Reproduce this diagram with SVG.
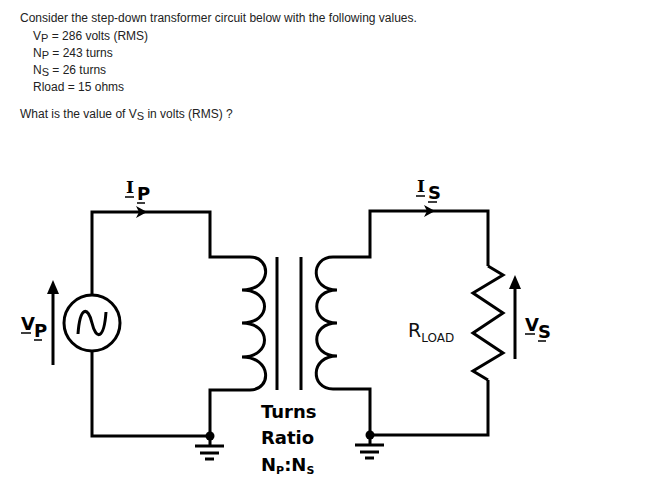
<svg xmlns="http://www.w3.org/2000/svg" width="650" height="481" viewBox="0 0 650 481">
<style>
.t{font-family:"Liberation Sans",Arial,sans-serif;font-size:12px;fill:#222}
.w{fill:none;stroke:#000;stroke-width:3;stroke-linejoin:miter}
.b{font-family:"DejaVu Sans",sans-serif;font-weight:bold;font-size:18px;fill:#000}
.s{font-family:"DejaVu Serif",serif;font-weight:bold;font-size:17px;fill:#000}
</style>
<rect width="650" height="481" fill="#fff"/>
<g id="text">
<text class="t" x="20" y="22">Consider the step-down transformer circuit below with the following values.</text>
<text class="t" x="33" y="40">V<tspan font-size="11" dy="2">P</tspan><tspan dy="-2"> = 286 volts (RMS)</tspan></text>
<text class="t" x="33" y="57">N<tspan font-size="11" dy="2">P</tspan><tspan dy="-2"> = 243 turns</tspan></text>
<text class="t" x="33" y="74">N<tspan font-size="11" dy="2">S</tspan><tspan dy="-2"> = 26 turns</tspan></text>
<text class="t" x="33" y="91">Rload = 15 ohms</text>
<text class="t" x="20" y="118">What is the value of V<tspan font-size="11" dy="2">S</tspan><tspan dy="-2"> in volts (RMS) ?</tspan></text>
</g>
<g id="connectors">
<path class="w" d="M92,295V212H210V257H250"/>
<path class="w" d="M250,390H210V436H92V351"/>
<path class="w" d="M333,257H370V211H488V266"/>
<path class="w" d="M333,389H370V435H488V380"/>
</g>
<g id="arrowIp"><path d="M136,206L147,212L136,218L139,212z" fill="#000"/></g>
<g id="arrowIs"><path d="M424,205L435,211L424,217L427,211z" fill="#000"/></g>
<g id="source">
<circle cx="92" cy="323" r="28" fill="#fff" stroke="#000" stroke-width="3"/>
<path d="M78,334C80,306 88,306 92,323C96,340 104,340 106,312" fill="none" stroke="#000" stroke-width="3"/>
</g>
<g id="primaryCoil">
<path class="w" d="M250,257C272,257 272,290 242,290C272,290 272,323 242,323C272,323 272,357 242,357C272,357 272,390 250,390"/>
</g>
<g id="core">
<line x1="277" y1="257" x2="277" y2="390" stroke="#000" stroke-width="3"/>
<line x1="301" y1="257" x2="301" y2="390" stroke="#000" stroke-width="3"/>
</g>
<g id="secondaryCoil">
<path class="w" d="M333,257C310,257 310,290 337,290C310,290 310,323 337,323C310,323 310,356 337,356C310,356 310,389 333,389"/>
</g>
<g id="resistor">
<path class="w" d="M488,266L503,275L473,293L503,313L473,333L503,353L473,371L488,380"/>
</g>
<g id="ground1">
<circle cx="210" cy="436" r="4.5" fill="#000"/>
<path d="M210,436V446M195,446H224M200,453H219M205,459H214" stroke="#000" stroke-width="3"/>
</g>
<g id="ground2">
<circle cx="370" cy="435" r="4.5" fill="#000"/>
<path d="M370,435V445M355,445H384M360,452H379M365,458H374" stroke="#000" stroke-width="3"/>
</g>
<g id="vp">
<line x1="53" y1="365" x2="53" y2="292" stroke="#000" stroke-width="3"/>
<path d="M47,294L53,280L59,294z" fill="#000"/>
<text class="b" x="21" y="330" font-size="16">V</text>
<text class="b" x="34" y="337" font-size="10">P</text>
<path d="M21,333H31M34,340H42" stroke="#000" stroke-width="1.5"/>
</g>
<g id="vs">
<line x1="515" y1="359" x2="515" y2="287" stroke="#000" stroke-width="3"/>
<path d="M509,289L515,275L521,289z" fill="#000"/>
<text class="b" x="525" y="331" font-size="16">V</text>
<text class="b" x="538" y="338" font-size="11">S</text>
<path d="M525,334H535M538,341H546" stroke="#000" stroke-width="1.5"/>
</g>
<g id="ip">
<text class="s" x="126" y="193">I</text>
<text class="b" x="137" y="200" font-size="11">P</text>
<path d="M125,197H134M137,203H145" stroke="#000" stroke-width="1.5"/>
</g>
<g id="is">
<text class="s" x="417" y="192">I</text>
<text class="b" x="428" y="199" font-size="11">S</text>
<path d="M416,196H425M428,202H437" stroke="#000" stroke-width="1.5"/>
</g>
<text x="408" y="337" font-family="'DejaVu Sans',sans-serif" font-size="19" fill="#111">R<tspan font-size="12" dy="5">LOAD</tspan></text>
<g id="turns">
<text class="b" x="261" y="418">Turns</text>
<text class="b" x="261" y="444">Ratio</text>
<text class="b" x="261" y="471">N<tspan font-size="11" dy="3">P</tspan><tspan dy="-3">:N</tspan><tspan font-size="11" dy="3">S</tspan></text>
</g>
</svg>
